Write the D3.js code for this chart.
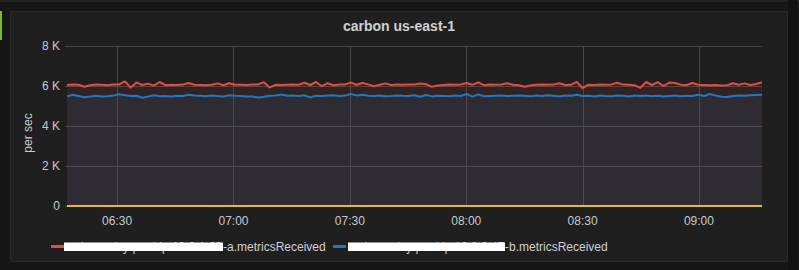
<!DOCTYPE html>
<html>
<head>
<meta charset="utf-8">
<script src="https://cdn.jsdelivr.net/npm/d3@7"></script>
<style>
  html, body { margin: 0; padding: 0; background: #161616; }
  svg { display: block; font-family: "Liberation Sans", Arial, sans-serif; }
  .tick-label { fill: #c8c9ca; font-size: 12px; }
  .chart-title { fill: #d0d1d2; font-size: 14px; font-weight: bold; }
  .legend-text { fill: #d0d1d2; font-size: 12px; }
</style>
</head>
<body>
<div id="chart"></div>
<script>
// chart data
const title = "carbon us-east-1";
const yLabel = "per sec";
const yTicks = [0, 2000, 4000, 6000, 8000];
const xTickLabels = ["06:30", "07:00", "07:30", "08:00", "08:30", "09:00"];
const startTime = "2017-01-01T06:17:05";
const endTime = "2017-01-01T09:16:15";

const seriesNames = ["carbon-relay-prod-ip-10-0-1-23-a.metricsReceived", "carbon-relay-prod-ip-10-0-2-47-b.metricsReceived"];
const redactedPrefixes = ["carbon-relay-prod-ip-10-0-1-23", "carbon-relay-prod-ip-10-0-2-47"];

// metricsReceived, series a (red)
const seriesA = [
    6050, 6070, 6060, 5960, 6040, 6080, 6060, 6040, 6070, 6080,
    6230, 5920, 6180, 6050, 6120, 6020, 6200, 6040, 6060, 6050,
    6070, 6150, 6060, 6050, 6040, 6060, 6130, 6040, 6140, 6060,
    6060, 6050, 6070, 6080, 6190, 5930, 6060, 6050, 6060, 6070,
    6060, 6160, 6050, 6200, 5990, 6140, 6040, 6070, 6080, 6170,
    6060, 6150, 6080, 5990, 6060, 6130, 6050, 6070, 6060, 6080,
    6070, 6120, 6090, 5960, 6020, 6050, 6070, 6060, 6080, 6150,
    6060, 6180, 6040, 6070, 6060, 6080, 6140, 6060, 6040, 5960,
    6020, 6060, 6080, 6060, 6070, 6140, 6050, 6060, 6210, 5900,
    6060, 6050, 6070, 6060, 6080, 6160, 6070, 6060, 6040, 5910,
    6200, 6050, 6190, 6000, 6170, 6150, 6060, 6050, 6150, 6060,
    6050, 6040, 6050, 6030, 6040, 6140, 6060, 6130, 6050, 6100,
    6190
];

// metricsReceived, series b (blue)
const seriesB = [
    5480, 5560, 5500, 5440, 5470, 5510, 5480, 5490, 5520, 5590,
    5540, 5500, 5510, 5410, 5470, 5540, 5490, 5500, 5480, 5510,
    5500, 5560, 5520, 5510, 5490, 5530, 5500, 5480, 5540, 5510,
    5500, 5480, 5470, 5420, 5460, 5510, 5530, 5570, 5510, 5520,
    5500, 5540, 5430, 5510, 5500, 5520, 5540, 5500, 5520, 5600,
    5530, 5560, 5510, 5500, 5520, 5490, 5500, 5530, 5510, 5500,
    5540, 5460, 5550, 5480, 5510, 5500, 5490, 5520, 5500, 5600,
    5470, 5580, 5490, 5500, 5510, 5520, 5500, 5510, 5520, 5510,
    5490, 5530, 5500, 5540, 5510, 5480, 5520, 5510, 5560, 5500,
    5510, 5480, 5520, 5500, 5490, 5530, 5510, 5480, 5520, 5500,
    5530, 5490, 5510, 5470, 5500, 5520, 5490, 5510, 5500, 5560,
    5500, 5600, 5520, 5460, 5450, 5500, 5530, 5510, 5540, 5550,
    5560
];

// third series, flat at zero over the whole range (hidden from legend)
const seriesZero = [0, 0];

const colors = ["#e24d42", "#1f78c1", "#eab839"];

const W = 799, H = 270;
const plot = { left: 67, right: 762, top: 46, bottom: 206 };

const parseTime = d3.timeParse("%Y-%m-%dT%H:%M:%S");
const t0 = parseTime(startTime), t1 = parseTime(endTime);

// spread a series evenly over the time range
const toPoints = vals => {
    const step = (t1 - t0) / (vals.length - 1);
    return vals.map((v, i) => ({ t: new Date(+t0 + i * step), v }));
};

const svg = d3.select("#chart").append("svg")
    .attr("width", W)
    .attr("height", H);

// page / panel chrome
svg.append("rect").attr("width", W).attr("height", H).attr("fill", "#161616");
svg.append("rect").attr("x", 0).attr("y", 0).attr("width", W).attr("height", 2).attr("fill", "#242424");
svg.append("rect").attr("x", 788).attr("y", 0).attr("width", 9).attr("height", H).attr("fill", "#121212");
svg.append("rect")
    .attr("x", 10.5).attr("y", 11.5)
    .attr("width", 777).attr("height", 250)
    .attr("fill", "#1f1f20")
    .attr("stroke", "#2a2a2a");
svg.append("rect").attr("x", 0).attr("y", 11).attr("width", 2).attr("height", 29).attr("fill", "#7eb82a");

const x = d3.scaleTime().domain([t0, t1]).range([plot.left, plot.right]);
const y = d3.scaleLinear().domain([0, 8000]).range([plot.bottom, plot.top]);

// grid
const tickTimes = xTickLabels.map(s => parseTime("2017-01-01T" + s + ":00"));
const grid = svg.append("g");
grid.selectAll(".hgrid").data(yTicks).join("line")
    .attr("x1", plot.left - 2).attr("x2", plot.right)
    .attr("y1", d => Math.round(y(d)) + 0.5).attr("y2", d => Math.round(y(d)) + 0.5)
    .attr("stroke", "#464646");
grid.selectAll(".vgrid").data(tickTimes).join("line")
    .attr("x1", d => Math.round(x(d)) + 0.5).attr("x2", d => Math.round(x(d)) + 0.5)
    .attr("y1", plot.top).attr("y2", plot.bottom)
    .attr("stroke", "#464646");

// series fills and lines
const data = [toPoints(seriesA), toPoints(seriesB)];
const area = d3.area().x(d => x(d.t)).y0(y(0)).y1(d => y(d.v));
const line = d3.line().x(d => x(d.t)).y(d => y(d.v));

svg.append("g").selectAll("path").data(data).join("path")
    .attr("d", area)
    .attr("fill", (d, i) => colors[i])
    .attr("fill-opacity", 0.1);

svg.append("g").selectAll("path").data(data).join("path")
    .attr("d", line)
    .attr("fill", "none")
    .attr("stroke", (d, i) => colors[i])
    .attr("stroke-width", 2)
    .attr("stroke-linejoin", "round");

// zero series
svg.append("path")
    .attr("d", line(toPoints(seriesZero)))
    .attr("fill", "none")
    .attr("stroke", colors[2])
    .attr("stroke-width", 2);

// y tick labels
svg.append("g").selectAll("text").data(yTicks).join("text")
    .attr("class", "tick-label")
    .attr("x", 60)
    .attr("y", d => y(d) + 4)
    .attr("text-anchor", "end")
    .text(d => d === 0 ? "0" : d3.format("d")(d / 1000) + " K");

// x tick labels
svg.append("g").selectAll("text").data(tickTimes).join("text")
    .attr("class", "tick-label")
    .attr("x", d => x(d))
    .attr("y", 225)
    .attr("text-anchor", "middle")
    .text((d, i) => xTickLabels[i]);

// y axis label
svg.append("text")
    .attr("class", "tick-label")
    .attr("transform", "rotate(-90)")
    .attr("x", -133)
    .attr("y", 32)
    .attr("text-anchor", "middle")
    .text(yLabel);

// title
svg.append("text")
    .attr("class", "chart-title")
    .attr("x", 399)
    .attr("y", 31)
    .attr("text-anchor", "middle")
    .text(title);

// legend (host part of the names is blanked out)
const legendItems = [
    { swatch: 51, boxX: 64, boxW: 159 },
    { swatch: 333, boxX: 348, boxW: 157 }
];
const legend = svg.append("g");
legendItems.forEach((it, i) => {
    const suffix = seriesNames[i].slice(redactedPrefixes[i].length);
    legend.append("rect")
        .attr("x", it.swatch).attr("y", 245)
        .attr("width", 13).attr("height", 3)
        .attr("fill", colors[i]);
    legend.append("text")
        .attr("class", "legend-text")
        .attr("x", it.boxX + 1)
        .attr("y", 251)
        .attr("textLength", it.boxW - 2)
        .attr("lengthAdjust", "spacingAndGlyphs")
        .text(redactedPrefixes[i]);
    legend.append("rect")
        .attr("x", it.boxX).attr("y", 242.5)
        .attr("width", it.boxW).attr("height", 8.5)
        .attr("fill", "#ffffff");
    legend.append("text")
        .attr("class", "legend-text")
        .attr("x", it.boxX + it.boxW)
        .attr("y", 251)
        .text(suffix);
});
</script>
</body>
</html>
